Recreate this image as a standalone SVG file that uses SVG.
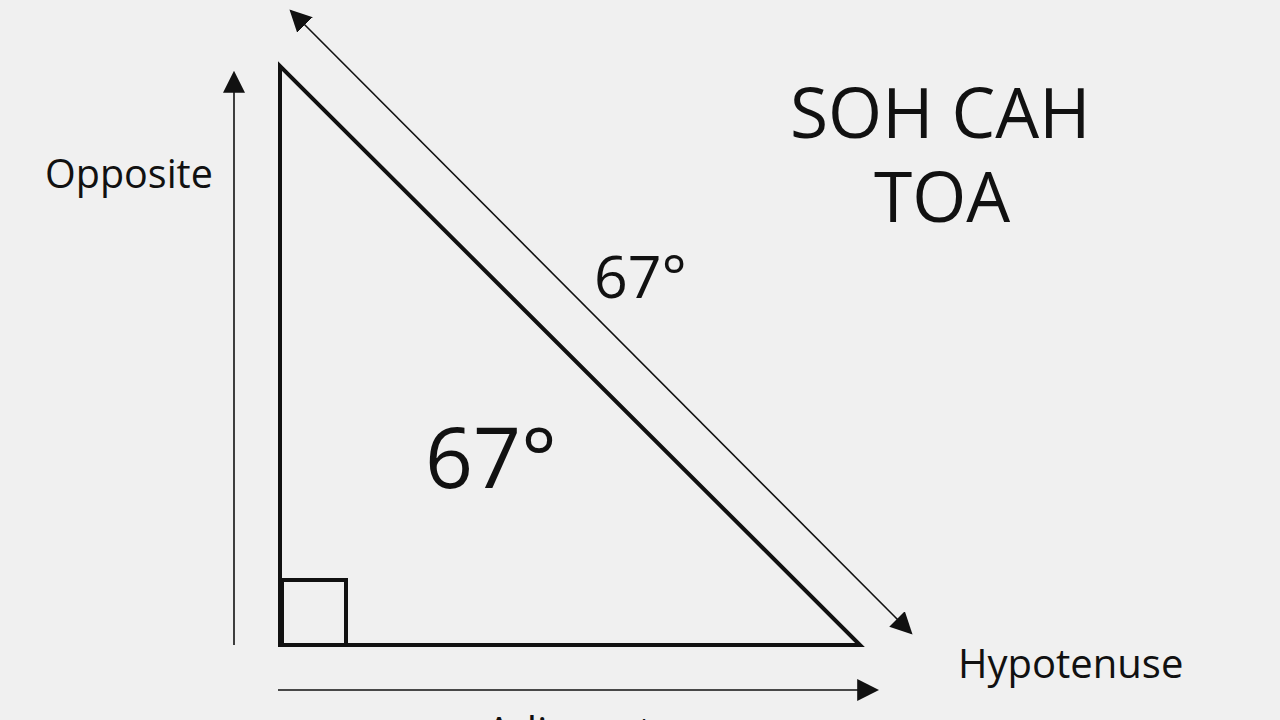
<svg xmlns="http://www.w3.org/2000/svg" width="1280" height="720" viewBox="0 0 1280 720">
<style>
text{font-family:"Open Sans","Noto Sans","DejaVu Sans",sans-serif;fill:#111}
.tri{fill:none;stroke:#111;stroke-width:4;stroke-linejoin:miter}
.con{stroke:#111;stroke-width:1.6;fill:none}
</style>
<defs>
<marker id="ah" viewBox="0 0 10 10" refX="9" refY="5" markerWidth="22" markerHeight="22" markerUnits="userSpaceOnUse" orient="auto-start-reverse">
<path d="M0,0 L10,5 L0,10 z" fill="#111"/>
</marker>
</defs>
<rect width="1280" height="720" fill="#f0f0f0"/>
<g id="triangle">
<path class="tri" d="M280,66 L280,645 L860,645 Z"/>
<rect class="tri" x="282" y="580" width="64" height="65"/>
</g>
<g id="connectors">
<line class="con" x1="234" y1="645" x2="234" y2="73" marker-end="url(#ah)"/>
<line class="con" x1="278" y1="690" x2="877" y2="690" marker-end="url(#ah)"/>
<line class="con" x1="291" y1="11" x2="911" y2="633" marker-start="url(#ah)" marker-end="url(#ah)"/>
</g>
<g id="labels">
<text x="45" y="188" font-size="39.5">Opposite</text>
<text x="790" y="138" font-size="69.5">SOH CAH</text>
<text x="874" y="222" font-size="69.5">TOA</text>
<text x="594" y="298" font-size="59">67°</text>
<text x="425" y="488" font-size="84">67°</text>
<text x="958" y="678" font-size="40">Hypotenuse</text>
<text x="486" y="746" font-size="41">Adjacent</text>
</g>
</svg>
